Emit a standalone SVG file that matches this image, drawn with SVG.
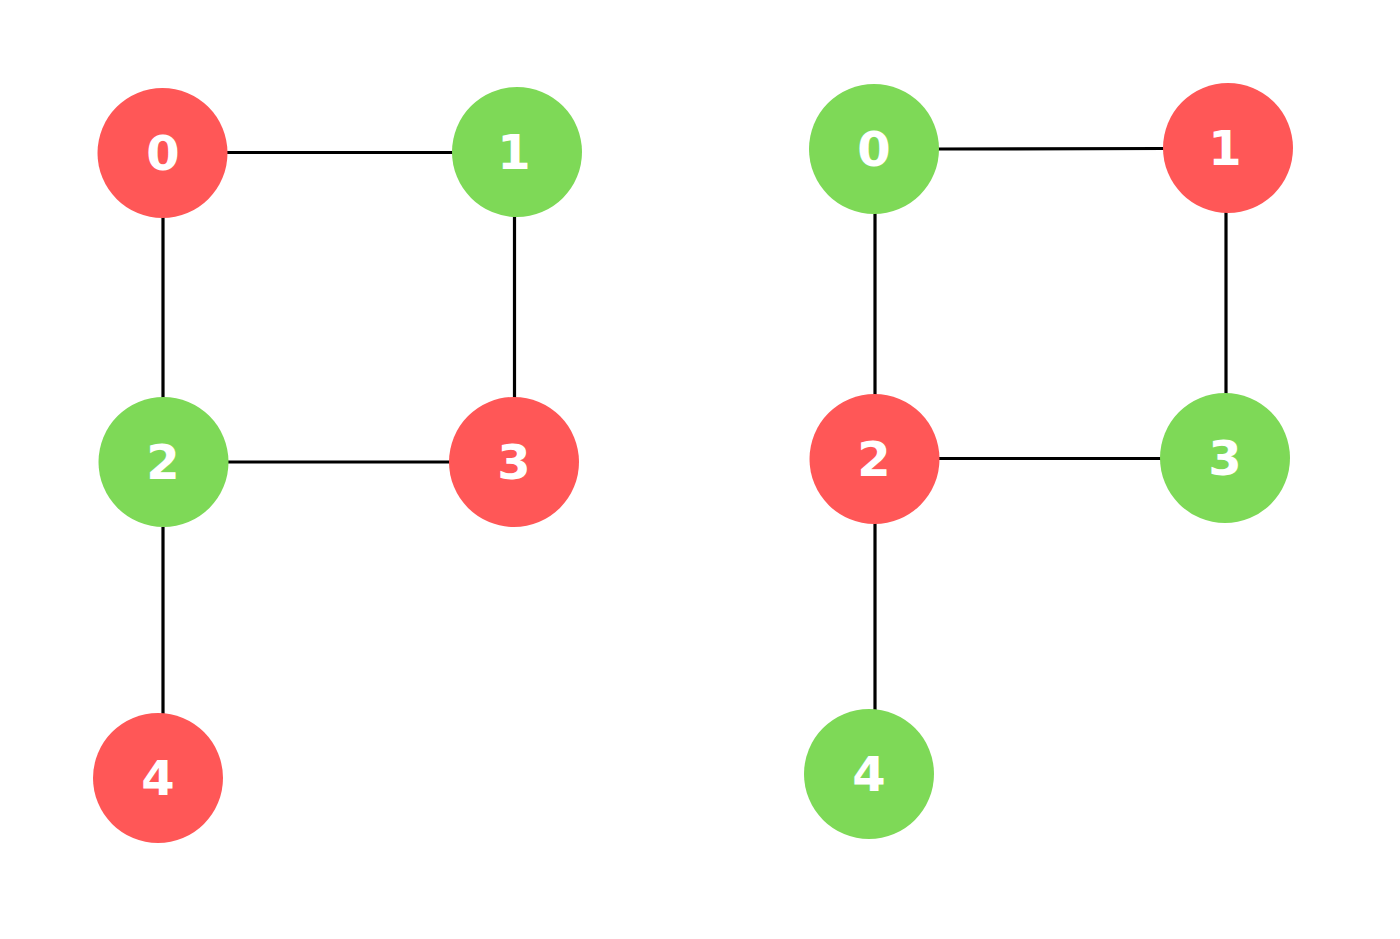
<svg xmlns="http://www.w3.org/2000/svg" width="1400" height="939" viewBox="0 0 1400 939">
<style>
.red{fill:#FF5757}
.green{fill:#7ED957}
.lbl{font-family:"DejaVu Sans","Liberation Sans",sans-serif;font-weight:bold;font-size:48px;fill:#FFFFFF;text-anchor:middle;dominant-baseline:central}
.edge{stroke:#000000;stroke-width:3.2;fill:none}
</style>
<rect width="1400" height="939" fill="#FFFFFF"/>
<g id="connectors">
<line class="edge" x1="227" y1="152.5" x2="453" y2="152.5"/>
<line class="edge" x1="163" y1="217" x2="163" y2="398"/>
<line class="edge" x1="514.5" y1="216" x2="514.5" y2="398"/>
<line class="edge" x1="228" y1="462" x2="450" y2="462"/>
<line class="edge" x1="163" y1="527" x2="163" y2="714"/>
<line class="edge" x1="938" y1="149" x2="1164" y2="148.5"/>
<line class="edge" x1="875" y1="213" x2="875" y2="395"/>
<line class="edge" x1="1226" y1="212" x2="1226" y2="394"/>
<line class="edge" x1="938" y1="458.5" x2="1161" y2="458.5"/>
<line class="edge" x1="875" y1="523" x2="875" y2="710"/>
</g>
<g id="L0"><circle class="red" cx="162.5" cy="153" r="65"/><text class="lbl" x="163" y="153">0</text></g>
<g id="L1"><circle class="green" cx="517" cy="152" r="65"/><text class="lbl" x="514" y="152">1</text></g>
<g id="L2"><circle class="green" cx="163.5" cy="462" r="65"/><text class="lbl" x="163" y="462">2</text></g>
<g id="L3"><circle class="red" cx="514" cy="462" r="65"/><text class="lbl" x="514" y="462">3</text></g>
<g id="L4"><circle class="red" cx="158" cy="778" r="65"/><text class="lbl" x="158" y="778">4</text></g>
<g id="R0"><circle class="green" cx="874" cy="149" r="65"/><text class="lbl" x="874" y="149">0</text></g>
<g id="R1"><circle class="red" cx="1228" cy="148" r="65"/><text class="lbl" x="1225" y="148">1</text></g>
<g id="R2"><circle class="red" cx="874.5" cy="459" r="65"/><text class="lbl" x="874" y="459">2</text></g>
<g id="R3"><circle class="green" cx="1225" cy="458" r="65"/><text class="lbl" x="1225" y="458">3</text></g>
<g id="R4"><circle class="green" cx="869" cy="774" r="65"/><text class="lbl" x="869" y="774">4</text></g>
</svg>
